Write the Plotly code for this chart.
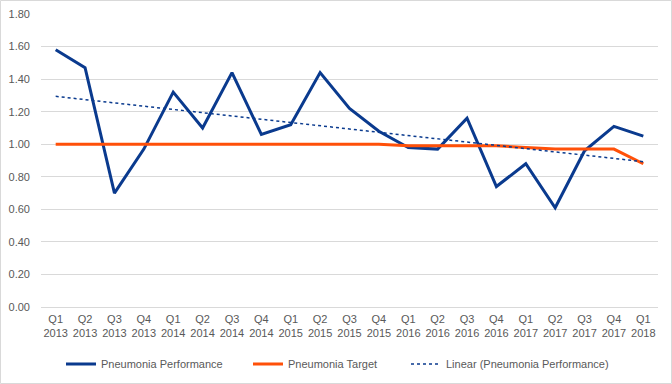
import numpy as np
import plotly.graph_objects as go

quarters = ["Q1", "Q2", "Q3", "Q4"] * 5 + ["Q1"]
years = ["2013"] * 4 + ["2014"] * 4 + ["2015"] * 4 + ["2016"] * 4 + ["2017"] * 4 + ["2018"]
categories = [f"{q}<br>{y}" for q, y in zip(quarters, years)]

performance = [1.58, 1.47, 0.70, 0.97, 1.32, 1.10, 1.44, 1.06, 1.12, 1.44, 1.22,
               1.08, 0.98, 0.97, 1.16, 0.74, 0.88, 0.61, 0.96, 1.11, 1.05]
target = [1.00, 1.00, 1.00, 1.00, 1.00, 1.00, 1.00, 1.00, 1.00, 1.00, 1.00,
          1.00, 0.99, 0.99, 0.99, 0.99, 0.98, 0.97, 0.97, 0.97, 0.88]

idx = np.arange(1, len(performance) + 1)
slope, intercept = np.polyfit(idx, performance, 1)
trend = slope * idx + intercept

blue = "#0A3A8E"
orange = "#FF5009"

fig = go.Figure()
fig.add_trace(go.Scatter(x=categories, y=performance, mode="lines", name="Pneumonia Performance",
                         line=dict(color=blue, width=3), legend="legend"))
fig.add_trace(go.Scatter(x=categories, y=target, mode="lines", name="Pneumonia Target",
                         line=dict(color=orange, width=3), legend="legend2"))
fig.add_trace(go.Scatter(x=categories, y=trend, mode="lines", name="Linear (Pneumonia Performance)",
                         line=dict(color=blue, width=1.5, dash="dot"), legend="legend3"))

W, H = 672, 384
L, R, T, B = 41, 14, 14, 77
pw, ph = W - L - R, H - T - B

legend_y = (T + ph - 364) / ph


def leg(px):
    return dict(orientation="h", x=(px - 6 - L) / pw, xanchor="left", y=legend_y, yanchor="middle",
                font=dict(size=11, color="#595959"), itemwidth=30, bgcolor="rgba(0,0,0,0)")


fig.update_layout(
    width=W, height=H,
    margin=dict(l=L, r=R, t=T, b=B, autoexpand=False),
    paper_bgcolor="white", plot_bgcolor="white",
    font=dict(family="Liberation Sans, Arial, sans-serif", size=11, color="#595959"),
    showlegend=True,
    legend=leg(67), legend2=leg(254), legend3=leg(412),
    xaxis=dict(type="category", range=[-0.5, len(categories) - 0.5], showgrid=False, showline=False,
               ticks="", tickangle=0, ticklabelstandoff=4, automargin=False,
               tickfont=dict(size=11, color="#595959")),
    yaxis=dict(range=[0, 1.8], dtick=0.2, tickformat=".2f", showgrid=True, gridcolor="#D9D9D9",
               gridwidth=1, zeroline=True, zerolinecolor="#D9D9D9", zerolinewidth=1, automargin=False,
               showline=False, ticks="", ticklabelstandoff=10, tickfont=dict(size=11, color="#595959")),
    shapes=[dict(type="rect", xref="paper", yref="paper",
                 x0=(-L + 0.5) / pw, x1=1 + (R - 0.5) / pw,
                 y0=(-B + 0.5) / ph, y1=1 + (T - 0.5) / ph,
                 line=dict(color="#D9D9D9", width=1), layer="below")],
)

fig.write_html("out.html", config={"displayModeBar": False},
               post_script="document.body.style.margin='0';document.body.style.overflow='hidden';")
